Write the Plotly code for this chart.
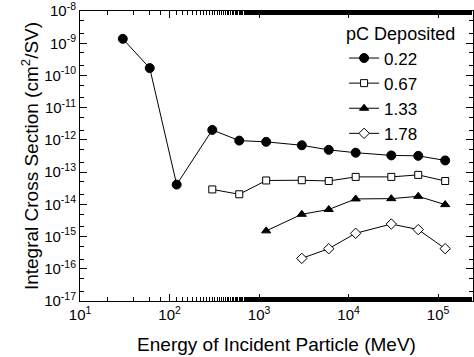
import plotly.graph_objects as go

energy_022 = [30, 60, 120, 300, 600, 1200, 3000, 6000, 12000, 30000, 60000, 120000]
xsec_022 = [1.37e-9, 1.69e-10, 4.1e-14, 2.04e-12, 9.5e-13, 8.7e-13, 6.8e-13, 4.9e-13, 4.0e-13, 3.3e-13, 3.2e-13, 2.3e-13]

energy_067 = [300, 600, 1200, 3000, 6000, 12000, 30000, 60000, 120000]
xsec_067 = [2.9e-14, 2.05e-14, 5.5e-14, 5.6e-14, 5.3e-14, 7.1e-14, 7.1e-14, 8.2e-14, 5.3e-14]

energy_133 = [1200, 3000, 6000, 12000, 30000, 60000, 120000]
xsec_133 = [1.5e-15, 4.9e-15, 6.9e-15, 1.47e-14, 1.5e-14, 1.77e-14, 9.8e-15]

energy_178 = [3000, 6000, 12000, 30000, 60000, 120000]
xsec_178 = [2.1e-16, 4.2e-16, 1.26e-15, 2.45e-15, 1.64e-15, 4.2e-16]

series_names = ["0.22", "0.67", "1.33", "1.78"]

x_tick_vals = [1e1, 1e2, 1e3, 1e4, 1e5]
x_tick_text = ["10<sup>1</sup>", "10<sup>2</sup>", "10<sup>3</sup>", "10<sup>4</sup>", "10<sup>5</sup>"]
y_tick_vals = [1e-17, 1e-16, 1e-15, 1e-14, 1e-13, 1e-12, 1e-11, 1e-10, 1e-9, 1e-8]
y_tick_text = ["10<sup>-17</sup>", "10<sup>-16</sup>", "10<sup>-15</sup>", "10<sup>-14</sup>",
               "10<sup>-13</sup>", "10<sup>-12</sup>", "10<sup>-11</sup>", "10<sup>-10</sup>",
               "10<sup>-9</sup>", "10<sup>-8</sup>"]

FONT = "Liberation Sans, Arial, Helvetica, sans-serif"

fig = go.Figure()
styles = [
    dict(symbol="circle", size=9, color="black"),
    dict(symbol="square", size=7, color="white"),
    dict(symbol="triangle-up", size=8, color="black"),
    dict(symbol="diamond", size=8, color="white"),
]
data = [(energy_022, xsec_022), (energy_067, xsec_067), (energy_133, xsec_133), (energy_178, xsec_178)]
for (xe, ys), name, st in zip(data, series_names, styles):
    fig.add_trace(go.Scatter(
        x=xe, y=ys, name=name, mode="lines+markers",
        line=dict(color="black", width=1),
        marker=dict(symbol=st["symbol"], size=st["size"], color=st["color"],
                    line=dict(color="black", width=1)),
    ))

axis_common = dict(
    type="log", tickmode="array",
    ticks="inside", ticklen=7, tickwidth=1, tickcolor="black",
    mirror="allticks", showline=True, linecolor="black", linewidth=1,
    showgrid=False, zeroline=False, automargin=False,
    ticklabeloverflow="allow",
    tickfont=dict(family=FONT, size=15, color="black"),
    minor=dict(ticks="inside", ticklen=4, tickcolor="black", showgrid=False),
)

fig.update_xaxes(**axis_common, range=[0.999, 5.39],
                 tickvals=x_tick_vals, ticktext=x_tick_text,
                 title=dict(text="Energy of Incident Particle (MeV)",
                            font=dict(family=FONT, size=19, color="black"), standoff=15))
fig.update_yaxes(**axis_common, range=[-17.001, -7.999],
                 tickvals=y_tick_vals, ticktext=y_tick_text,
                 title=dict(text="Integral Cross Section (cm<sup>2</sup>/SV)",
                            font=dict(family=FONT, size=19, color="black"), standoff=0))

fig.update_layout(
    width=474, height=357,
    margin=dict(l=80, r=1, t=11, b=56),
    paper_bgcolor="white", plot_bgcolor="white",
    font=dict(family=FONT, color="black"),
    legend=dict(
        title=dict(text="pC Deposited", font=dict(family=FONT, size=18), side="top"),
        font=dict(family=FONT, size=17),
        x=0.672, y=0.979, xanchor="left", yanchor="top",
        bgcolor="rgba(0,0,0,0)", borderwidth=0, tracegroupgap=0,
    ),
)

fig.write_html("out.html", config={"displayModeBar": False},
               post_script="document.body.style.margin='0';document.body.style.overflow='hidden';")
